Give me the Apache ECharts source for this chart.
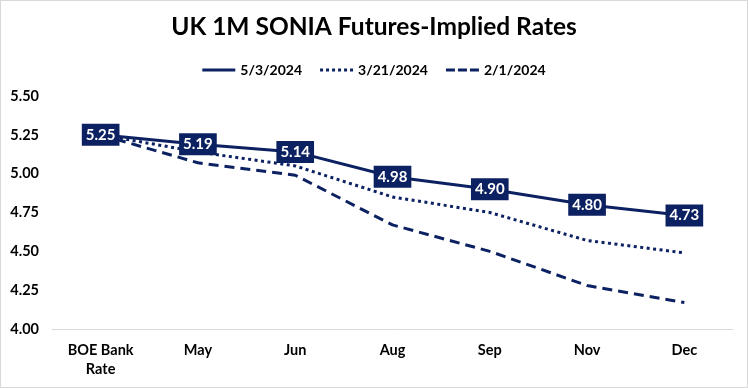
<!DOCTYPE html>
<html>
<head>
<meta charset="utf-8">
<script src="https://cdn.jsdelivr.net/npm/echarts@6/dist/echarts.min.js"></script>
<style>
html,body{margin:0;padding:0;background:#fff;}
#c{width:748px;height:388px;box-sizing:border-box;border:1px solid #d9d9d9;}
</style>
</head>
<body>
<div id="c"></div>
<script>
const categories = ['BOE Bank\nRate', 'May', 'Jun', 'Aug', 'Sep', 'Nov', 'Dec'];
const s_0503 = [5.25, 5.19, 5.14, 4.98, 4.90, 4.80, 4.73];
const s_0321 = [5.25, 5.14, 5.05, 4.85, 4.75, 4.57, 4.49];
const s_0201 = [5.25, 5.07, 4.99, 4.67, 4.50, 4.28, 4.17];
const yTicks = [4.00, 4.25, 4.50, 4.75, 5.00, 5.25, 5.50];

const navy = '#0c2161';
const font = 'Lato, "Open Sans", sans-serif';
const iconSolid = 'path://M0,0 H33 V3 H0 Z';
const iconDot = 'path://M0,0h3v3h-3z M6,0h3v3h-3z M12,0h3v3h-3z M18,0h3v3h-3z M24,0h3v3h-3z M30,0h3v3h-3z';
const iconDash = 'path://M0,0h9v3h-9z M12,0h9v3h-9z M24,0h9v3h-9z';
const chart = echarts.init(document.getElementById('c'), null, {renderer: 'canvas'});
chart.setOption({
  animation: false,
  title: {
    text: 'UK 1M SONIA Futures-Implied Rates',
    left: 'center', top: 9,
    textStyle: {fontFamily: font, fontWeight: 'bold', fontSize: 24.5, color: '#000'}
  },
  legend: {
    top: 57, left: 'center',
    itemWidth: 33, itemHeight: 14, itemGap: 18,
    textStyle: {fontFamily: font, fontWeight: 'bold', fontSize: 14, color: '#000'},
    data: [
      {name: '5/3/2024', icon: iconSolid},
      {name: '3/21/2024', icon: iconDot},
      {name: '2/1/2024', icon: iconDash}
    ]
  },
  grid: {left: 51, right: 14, top: 95, bottom: 58, containLabel: false},
  xAxis: {
    type: 'category',
    data: categories,
    boundaryGap: true,
    axisLine: {lineStyle: {color: '#d9d9d9', width: 1}},
    axisTick: {show: false},
    axisLabel: {fontFamily: font, fontWeight: 'bold', fontSize: 14.5, color: '#000', margin: 12, lineHeight: 19}
  },
  yAxis: {
    type: 'value',
    min: yTicks[0], max: yTicks[yTicks.length - 1], interval: 0.25,
    splitLine: {show: false},
    axisLine: {show: false},
    axisTick: {show: false},
    axisLabel: {
      fontFamily: font, fontWeight: 'bold', fontSize: 14.5, color: '#000', margin: 13,
      formatter: v => v.toFixed(2)
    }
  },
  series: [
    {
      name: '2/1/2024', type: 'line', data: s_0201, symbol: 'none', z: 2,
      lineStyle: {color: navy, width: 3, type: [10, 6]},
      itemStyle: {color: navy}
    },
    {
      name: '3/21/2024', type: 'line', data: s_0321, symbol: 'none', z: 3,
      lineStyle: {color: navy, width: 3, type: [3, 3.5]},
      itemStyle: {color: navy}
    },
    {
      name: '5/3/2024', type: 'line', data: s_0503, z: 4,
      symbol: 'circle', symbolSize: 0.1, showSymbol: true,
      lineStyle: {color: navy, width: 3, type: 'solid'},
      itemStyle: {color: navy},
      label: {
        show: true, position: 'inside',
        formatter: p => p.value.toFixed(2),
        backgroundColor: navy, color: '#fff',
        fontFamily: font, fontWeight: 'bold', fontSize: 15,
        padding: [4, 4, 3, 4]
      }
    }
  ]
});
</script>
</body>
</html>
